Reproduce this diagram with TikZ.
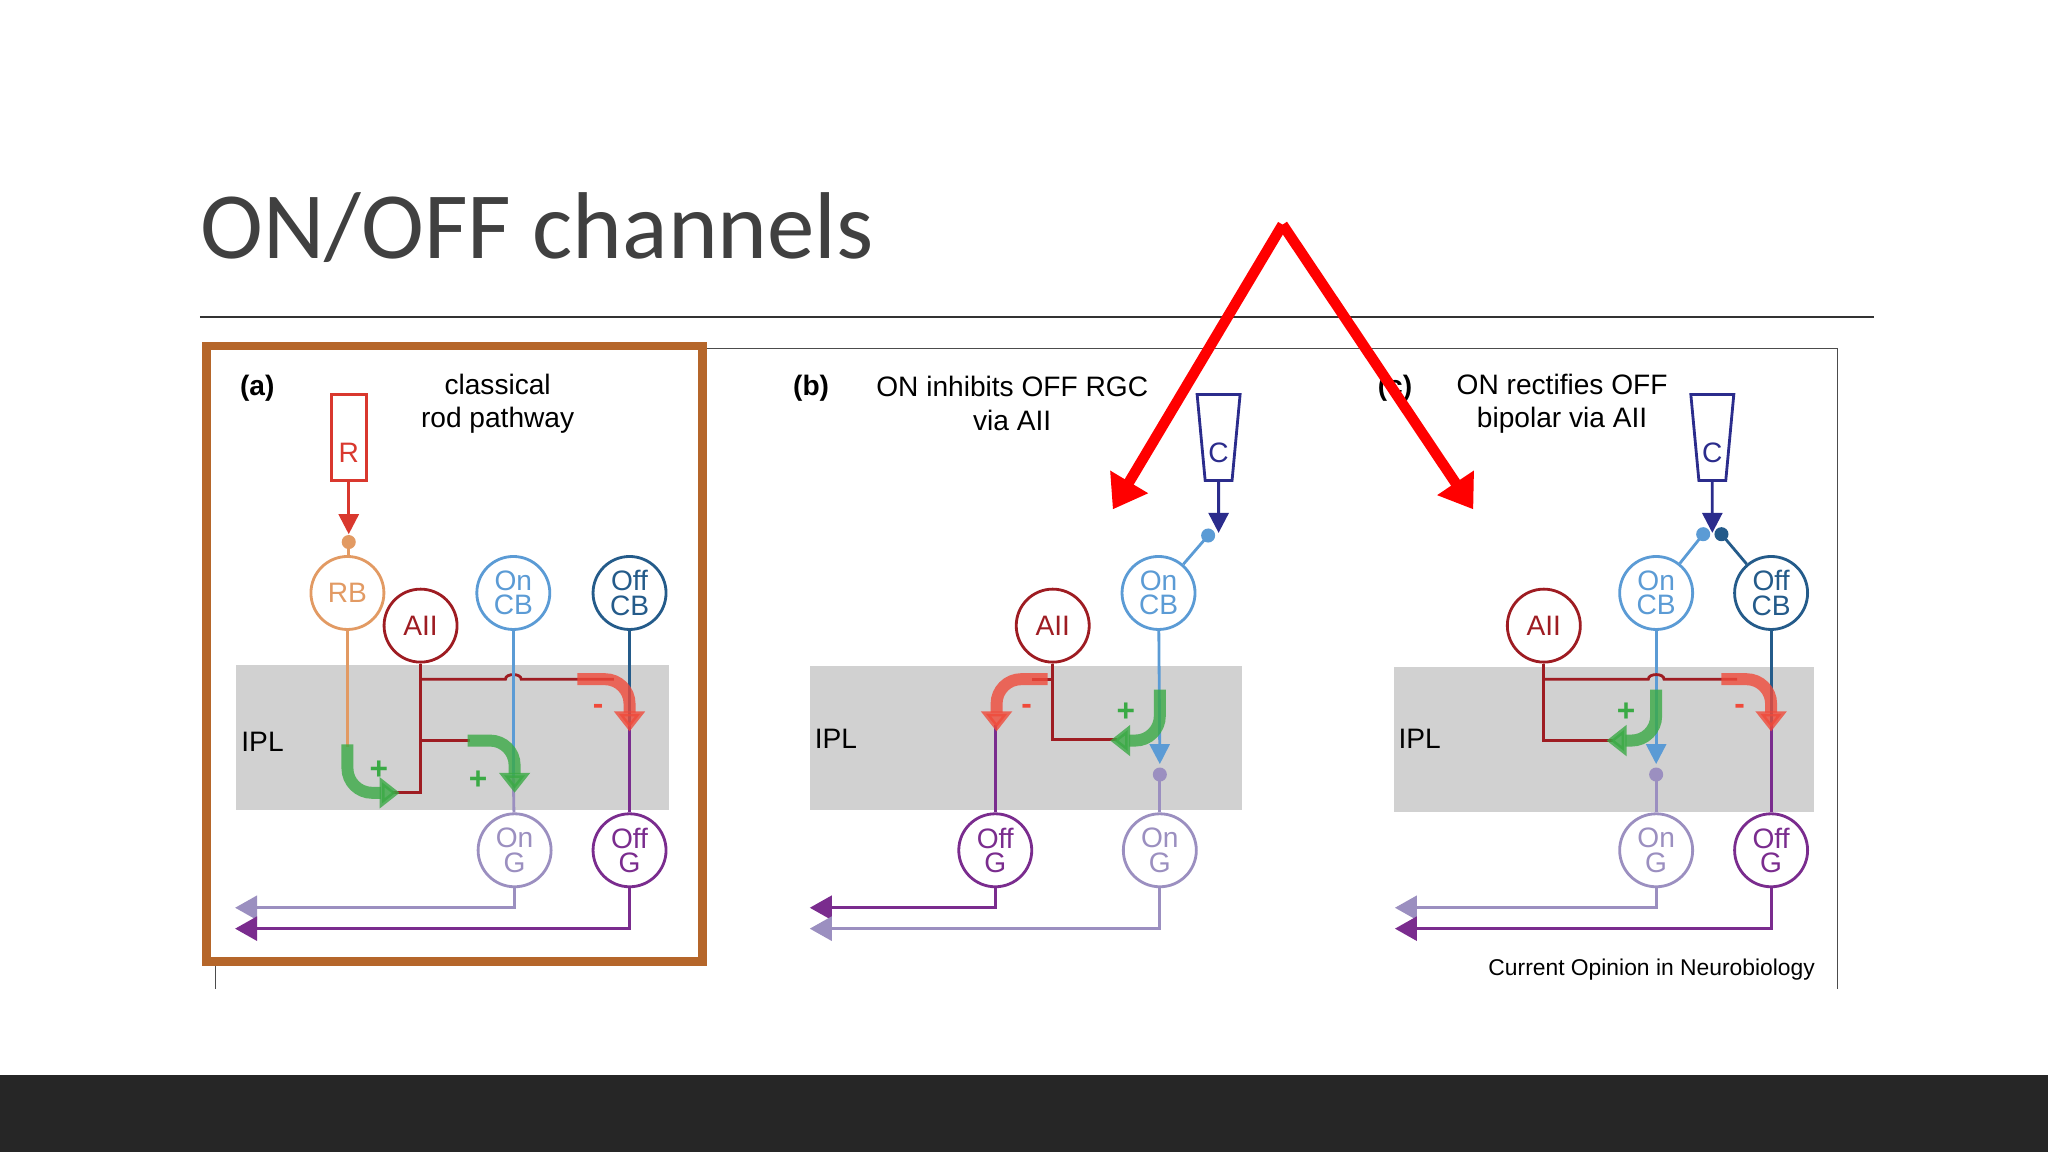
\documentclass[tikz,border=0pt]{standalone}
\usepackage{fontspec}
\setmainfont{Liberation Sans}
\newfontfamily\slidefont{Carlito}
\usetikzlibrary{arrows.meta,shapes.geometric}
\definecolor{rodred}{HTML}{D9382E}
\definecolor{rbor}{HTML}{E29A63}
\definecolor{aiired}{HTML}{9E1C22}
\definecolor{oncb}{HTML}{5B9BD5}
\definecolor{offcb}{HTML}{245B8A}
\definecolor{ong}{HTML}{9B8FC0}
\definecolor{offg}{HTML}{7A2C8E}
\definecolor{cnavy}{HTML}{2B2C8C}
\definecolor{gsyn}{HTML}{3AAA45}
\definecolor{rsyn}{HTML}{F04A3A}
\definecolor{boxbrown}{HTML}{B5662A}
\begin{document}
\begin{tikzpicture}[x=0.013061cm,y=-0.013061cm,
        cell/.style={circle, draw, thick, fill=white, minimum size=0.73cm, inner sep=0pt, align=center, font=\fontsize{8}{7}\selectfont},
        wire/.style={draw, thick},
        output/.style={draw, thick, -{Triangle[length=2.2mm,width=2.4mm]}},
        syn/.style={line width=3.4pt, opacity=0.8, rounded corners=7pt, -{Triangle[length=2mm,width=3mm]}},
        sign/.style={font=\fontsize{9}{9}\selectfont\bfseries},
        ipl/.style={fill=black!18, draw=none},
        txt/.style={font=\fontsize{8}{9.5}\selectfont, align=center},
        soma/.style={thick, minimum height=0.86cm, inner sep=0pt, align=center, font=\fontsize{8}{8}\selectfont}
    ]
        \useasboundingbox (0,0) rectangle (1568,882);
        % Slide
        \node[anchor=base west, inner sep=0pt, text=black!75, font=\slidefont\fontsize{27}{27}\selectfont] (title) at (153,198) {ON/OFF channels};
        \draw[black!80, semithick] (153,243) -- (1435,243);
        \fill[black!85] (0,823) rectangle (1568,882);
        \draw[black!70] (540,267) -- (1407,267) -- (1407,757);
        \draw[black!70] (165,736) -- (165,757);

        % (a) classical rod pathway
        \fill[ipl] (181,509) rectangle (512,620);
        \node[txt] (a_ipl) at (201,568) {IPL};
        \node[txt, font=\fontsize{8}{9.5}\selectfont\bfseries] (a_lab) at (197,297) {(a)};
        \node[txt] (a_title) at (381,309) {classical\\rod pathway};
        \node[soma, draw=rodred, text=rodred, minimum width=0.35cm] (a_r) at (267,335) {\\[6pt]R};
        \node[cell, draw=rbor, text=rbor] (a_rb) at (266,454) {RB};
        \node[cell, draw=aiired, text=aiired] (a_aii) at (322,479) {AII};
        \node[cell, draw=oncb, text=oncb] (a_oncb) at (393,454) {On\\CB};
        \node[cell, draw=offcb, text=offcb] (a_offcb) at (482,454) {Off\\CB};
        \node[cell, draw=ong, text=ong] (a_ong) at (394,651) {On\\G};
        \node[cell, draw=offg, text=offg] (a_offg) at (482,651) {Off\\G};
        \coordinate (a_dot) at (267,415);
        \draw[wire, rodred, -{Triangle[length=2mm,width=2mm]}] (a_r) -- (267,409);
        \fill[rbor] (a_dot) circle (2pt);
        \draw[wire, rbor] (a_dot) -- (a_rb);
        \draw[wire, rbor] (a_rb) -- (266,572);
        \draw[wire, aiired] (a_aii) -- (322,607) -- (300,607);
        \draw[wire, aiired] (322,520) -- (387,520) to[out=90,in=90] (399,520) -- (470,520);
        \draw[wire, aiired] (322,567) -- (360,567);
        \draw[wire, oncb] (a_oncb) -- (393,595);
        \draw[wire, ong] (393,595) -- (a_ong);
        \draw[wire, offcb] (a_offcb) -- (482,555);
        \draw[wire, offg] (482,555) -- (a_offg);
        \draw[syn, gsyn] (266,570) |- (306,607);
        \draw[syn, gsyn] (358,567) -| (394,607);
        \draw[syn, rsyn] (442,520) -| (482,560);
        \node[sign, text=gsyn] (a_p1) at (290,590) {+};
        \node[sign, text=gsyn] (a_p2) at (366,597) {+};
        \node[sign, text=rsyn] (a_m) at (458,543) {-};
        \draw[output, ong] (a_ong) |- (180,695);
        \draw[output, offg] (a_offg) |- (180,711);
        \draw[boxbrown, line width=2.4pt] (158,265) rectangle (538,736);

        % (b) ON inhibits OFF RGC
        \fill[ipl] (620,510) rectangle (951,620);
        \node[txt] (b_ipl) at (640,566) {IPL};
        \node[txt, font=\fontsize{8}{9.5}\selectfont\bfseries] (b_lab) at (621,297) {(b)};
        \node[txt] (b_title) at (775,309) {ON inhibits OFF RGC\\via AII};
        \node[soma, trapezium, shape border rotate=180, trapezium stretches=true, trapezium angle=83, draw=cnavy, text=cnavy, minimum width=0.43cm] (b_c) at (933,335) {\\[6pt]C};
        \node[cell, draw=aiired, text=aiired] (b_aii) at (806,479) {AII};
        \node[cell, draw=oncb, text=oncb] (b_oncb) at (887,454) {On\\CB};
        \node[cell, draw=offg, text=offg] (b_offg) at (762,651) {Off\\G};
        \node[cell, draw=ong, text=ong] (b_ong) at (888,651) {On\\G};
        \coordinate (b_dot) at (925,410);
        \draw[wire, cnavy, -{Triangle[length=2mm,width=2mm]}] (b_c) -- (933,408);
        \fill[oncb] (b_dot) circle (2pt);
        \draw[wire, oncb] (b_dot) -- (b_oncb);
        \draw[wire, oncb, -{Triangle[length=2mm,width=2mm]}] (b_oncb) -- (888,585);
        \fill[ong] (888,593) circle (2pt);
        \draw[wire, ong] (888,593) -- (b_ong);
        \draw[wire, aiired] (b_aii) -- (806,566) -- (855,566);
        \draw[wire, aiired] (806,520) -- (790,520);
        \draw[wire, offg] (762,555) -- (b_offg);
        \draw[syn, gsyn] (888,528) |- (850,567);
        \draw[syn, rsyn] (802,520) -| (763,560);
        \node[sign, text=gsyn] (b_p) at (862,545) {+};
        \node[sign, text=rsyn] (b_m) at (786,543) {-};
        \draw[output, offg] (b_offg) |- (620,695);
        \draw[output, ong] (b_ong) |- (620,711);

        % (c) ON rectifies OFF bipolar
        \fill[ipl] (1067,511) rectangle (1389,622);
        \node[txt] (c_ipl) at (1087,566) {IPL};
        \node[txt, font=\fontsize{8}{9.5}\selectfont\bfseries] (c_lab) at (1068,297) {(c)};
        \node[txt] (c_title) at (1196,309) {ON rectifies OFF\\bipolar via AII};
        \node[soma, trapezium, shape border rotate=180, trapezium stretches=true, trapezium angle=83, draw=cnavy, text=cnavy, minimum width=0.43cm] (c_c) at (1311,335) {\\[6pt]C};
        \node[cell, draw=aiired, text=aiired] (c_aii) at (1182,479) {AII};
        \node[cell, draw=oncb, text=oncb] (c_oncb) at (1268,454) {On\\CB};
        \node[cell, draw=offcb, text=offcb] (c_offcb) at (1356,454) {Off\\CB};
        \node[cell, draw=ong, text=ong] (c_ong) at (1268,651) {On\\G};
        \node[cell, draw=offg, text=offg] (c_offg) at (1356,651) {Off\\G};
        \coordinate (c_dot1) at (1304,409);
        \coordinate (c_dot2) at (1318,409);
        \draw[wire, cnavy, -{Triangle[length=2mm,width=2mm]}] (c_c) -- (1311,408);
        \fill[oncb] (c_dot1) circle (2pt);
        \fill[offcb] (c_dot2) circle (2pt);
        \draw[wire, oncb] (c_dot1) -- (c_oncb);
        \draw[wire, offcb] (c_dot2) -- (c_offcb);
        \draw[wire, oncb, -{Triangle[length=2mm,width=2mm]}] (c_oncb) -- (1268,585);
        \fill[ong] (1268,593) circle (2pt);
        \draw[wire, ong] (1268,593) -- (c_ong);
        \draw[wire, aiired] (c_aii) -- (1182,567) -- (1235,567);
        \draw[wire, aiired] (1182,520) -- (1262,520) to[out=90,in=90] (1274,520) -- (1330,520);
        \draw[wire, offcb] (c_offcb) -- (1356,555);
        \draw[wire, offg] (1356,555) -- (c_offg);
        \draw[syn, gsyn] (1268,528) |- (1230,567);
        \draw[syn, rsyn] (1318,520) -| (1356,560);
        \node[sign, text=gsyn] (c_p) at (1245,545) {+};
        \node[sign, text=rsyn] (c_m) at (1332,543) {-};
        \draw[output, ong] (c_ong) |- (1068,695);
        \draw[output, offg] (c_offg) |- (1068,711);
        \node[anchor=east, inner sep=0pt, font=\fontsize{6.5}{7}\selectfont] (credit) at (1390,742) {Current Opinion in Neurobiology};

        % Pointer arrows
        \coordinate (apex) at (982,172);
        \draw[red, line width=3pt, -{Triangle[length=3.2mm,width=4.2mm]}] (apex) -- (852,390);
        \draw[red, line width=3pt, -{Triangle[length=3.2mm,width=4.2mm]}] (apex) -- (1128,390);
\end{tikzpicture}
\end{document}
